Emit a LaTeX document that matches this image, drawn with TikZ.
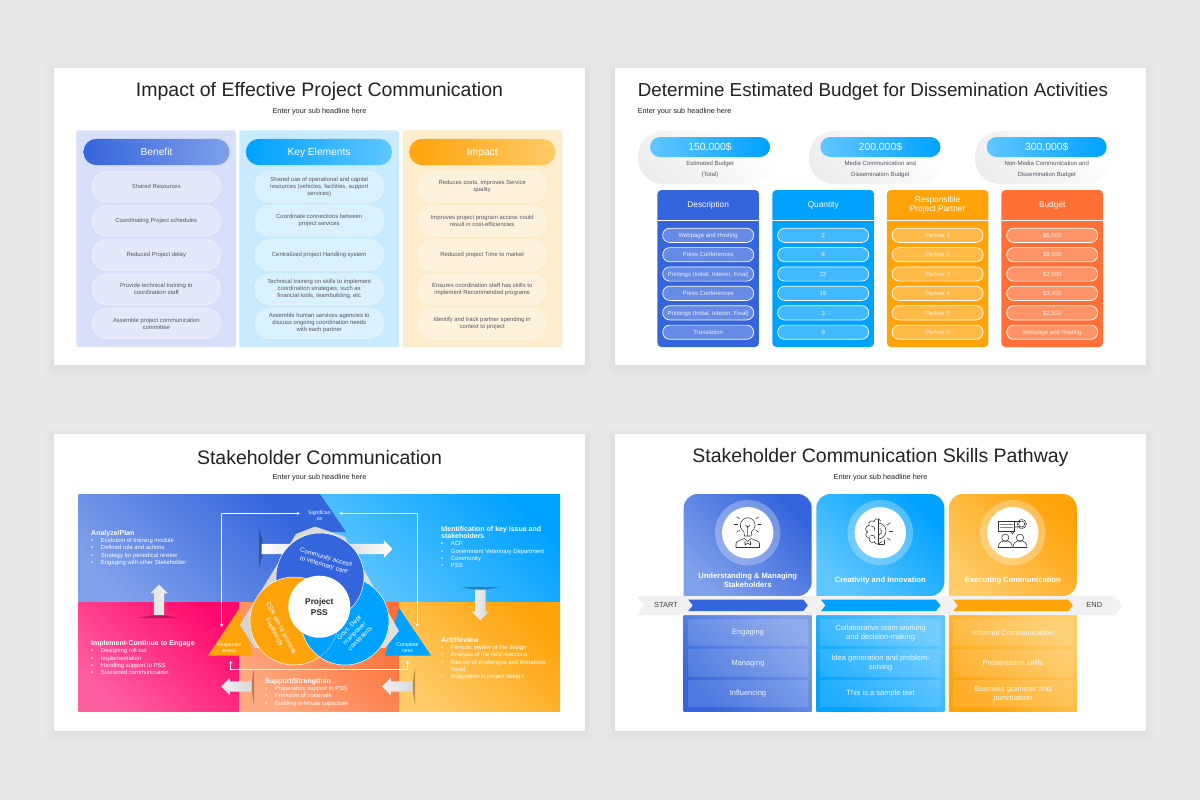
\documentclass[tikz,border=0pt]{standalone}
\usepackage{fontspec}
\setmainfont{Liberation Sans}
\usetikzlibrary{shapes.arrows}
\definecolor{pagegray}{HTML}{E9E9EB}
\definecolor{titleink}{HTML}{222222}
\definecolor{bodyink}{HTML}{555560}
\definecolor{royal}{HTML}{3565DC}
\definecolor{royallt}{HTML}{7FA0EA}
\definecolor{sky}{HTML}{00A2FF}
\definecolor{skylt}{HTML}{60C6FF}
\definecolor{amber}{HTML}{FFA30A}
\definecolor{amberlt}{HTML}{FFCB66}
\definecolor{flame}{HTML}{FF6F36}
\definecolor{flamelt}{HTML}{FFA980}
\definecolor{rose}{HTML}{FF0A6C}
\definecolor{roselt}{HTML}{FF5FA0}
\definecolor{bandgray}{HTML}{F1F1F1}
\newcommand{\bul}{\makebox[9.8pt][l]{\textbullet}}
\newcommand{\bulgap}{\hspace*{9.8pt}}
\newcommand{\blockhead}[1]{{\fontsize{7}{7.25}\selectfont\bfseries #1}}
\newcommand{\cardback}[2]{%
  \foreach \s in {1,...,9}
    \fill[black,opacity=.005,rounded corners=3pt] (#1-\s,#2-\s+3) rectangle (#1+531+\s,#2+297+\s+3);
  \fill[white] (#1,#2) rectangle (#1+531,#2+297);}
\tikzset{
  grad/.style 2 args={left color=#1,right color=#2,shading angle=135},
  titlenode/.style={text=titleink,font=\fontsize{19.5}{22}\selectfont,inner sep=0pt},
  subnode/.style={text=titleink,font=\fontsize{7.3}{9}\selectfont,inner sep=0pt},
  panelbox/.style={minimum width=159.5pt,minimum height=216.5pt,inner sep=0pt,rounded corners=2pt},
  headpill/.style={minimum width=146pt,minimum height=26.4pt,inner sep=0pt,rounded corners=13pt,text height=7.4pt,text depth=0pt,text=white,font=\fontsize{10.2}{12}\selectfont},
  itempill/.style={minimum width=128.6pt,minimum height=30.6pt,inner sep=0pt,rounded corners=15pt,draw=white,draw opacity=.55,fill=white,fill opacity=.32,text opacity=1,line width=.5pt,text=bodyink,align=center,font=\fontsize{5.9}{7}\selectfont},
  moneypill/.style={minimum width=120pt,minimum height=20pt,inner sep=0pt,rounded corners=10pt,text height=7.4pt,text depth=0pt,left color=skylt,right color=sky,text=white,font=\fontsize{10.4}{12}\selectfont},
  blobtext/.style={text=bodyink,align=center,font=\fontsize{6}{10.4}\selectfont,inner sep=0pt},
  colbox/.style={minimum width=101.5pt,minimum height=157pt,inner sep=0pt,rounded corners=4pt},
  colhead/.style={minimum width=101.5pt,minimum height=30pt,inner sep=0pt,text=white,align=center,font=\fontsize{8.3}{9.6}\selectfont},
  rowpill/.style={minimum width=91pt,minimum height=14.2pt,inner sep=0pt,rounded corners=7pt,text height=4.4pt,text depth=0pt,draw=white,line width=.7pt,fill=white,fill opacity=.25,text opacity=.88,text=white,font=\fontsize{6}{7}\selectfont},
  flowarrow/.style 2 args={single arrow,single arrow head extend=3.5pt,minimum width=17pt,text height=10pt,text depth=0pt,inner sep=0pt,left color=#1,right color=#2},
  blocktext/.style={anchor=north west,inner sep=0pt,text=white,align=left,font=\fontsize{5.9}{7.25}\selectfont},
  petal/.style={circle,minimum size=88pt,inner sep=0pt,draw=white,line width=.5pt},
  petaltext/.style={inner sep=0pt,text=white,align=center,font=\fontsize{6.4}{7.8}\selectfont},
  trilabel/.style={inner sep=0pt,text=white,align=center,font=\fontsize{5.2}{6.2}\selectfont},
  lens/.style={black,opacity=.28},
  stepcell/.style={minimum width=120.3pt,minimum height=27.3pt,inner sep=0pt,fill=white,fill opacity=.13,text opacity=.9,text=white,align=center,font=\fontsize{7.5}{9}\selectfont},
  steptitle/.style={inner sep=0pt,text=white,align=center,font=\fontsize{7.6}{9.8}\selectfont\bfseries},
  bandlabel/.style={inner sep=0pt,text=black!75,font=\fontsize{7.4}{8}\selectfont},
  halo/.style={circle,minimum size=65.4pt,inner sep=0pt,fill=white,fill opacity=.28},
  iconline/.style={draw=black!80,line width=.55pt,line cap=round,line join=round}
}
\begin{document}
\begin{tikzpicture}[x=1pt,y=-1pt]
\fill[pagegray] (0,0) rectangle (1200,800);
\useasboundingbox (0,0) rectangle (1200,800);
\cardback{54}{68}
\cardback{615}{68}
\cardback{54}{434}
\cardback{615}{434}
\node[titlenode] (impacttitle) at (319.5,91.4) {Impact of Effective Project Communication};
\node[subnode] (impactsub) at (319.5,111.8) {Enter your sub headline here};
\node[panelbox,fill=royal!20] (benefitpanel) at (156,238.7) {};
\node[panelbox,fill=sky!21] (keypanel) at (319,238.7) {};
\node[panelbox,fill=amber!21] (impactpanel) at (482.5,238.7) {};
\node[headpill,left color=royal,right color=royallt] (benefithead) at (156.5,152) {Benefit};
\node[headpill,left color=sky,right color=skylt] (keyhead) at (319,152) {Key Elements};
\node[headpill,left color=amber,right color=amberlt] (impacthead) at (482.3,152) {Impact};
\foreach \yy/\txt [count=\n] in {186.7/{Shared Resources},220.8/{Coordinating Project schedules},255/{Reduced Project delay},289.2/{Provide technical training to\\coordination staff},323.4/{Assemble project communication\\committee}}
  \node[itempill] (benefit\n) at (156.3,\yy) {\txt};
\foreach \yy/\txt [count=\n] in {186.7/{Shared use of operational and capital\\resources (vehicles, facilities, support\\services)},220.8/{Coordinate connections between\\project services},255/{Centralized project Handling system},289.2/{Technical training on skills to implement\\coordination strategies, such as\\financial tools, teambuilding, etc},323.4/{Assemble human services agencies to\\discuss ongoing coordination needs\\with each partner}}
  \node[itempill] (key\n) at (319.2,\yy) {\txt};
\foreach \yy/\txt [count=\n] in {186.7/{Reduces costs, improves Service\\quality},220.8/{Improves project program access could\\result in cost-efficiencies},255/{Reduced project Time to market},289.2/{Ensures coordination staff has skills to\\implement Recommended programs},323.4/{Identify and track partner spending in\\context to project}}
  \node[itempill] (impact\n) at (482.2,\yy) {\txt};
\node[titlenode,anchor=west,font=\fontsize{18.8}{22}\selectfont] (budgettitle) at (637.6,91.4) {Determine Estimated Budget for Dissemination Activities};
\node[subnode,anchor=west] (budgetsub) at (637.6,111.8) {Enter your sub headline here};
\foreach \cx in {706,877,1043}
  \shade[left color=black!7,right color=white,shading angle=135,rounded corners=25pt] (\cx-68,131) rectangle (\cx+68,184);
\node[moneypill] (total) at (710,147) {150,000\$};
\node[moneypill] (media) at (880.4,147) {200,000\$};
\node[moneypill] (nonmedia) at (1046.7,147) {300,000\$};
\node[blobtext] (totaltext) at (710,169.4) {Estimated Budget\\(Total)};
\node[blobtext] (mediatext) at (880.4,169.4) {Media Communication and\\Dissemination Budget};
\node[blobtext] (nonmediatext) at (1046.7,169.4) {Non-Media Communication and\\Dissemination Budget};
\foreach \nm/\cx/\colr/\hd in {desc/708.2/royal/{Description},qty/823.2/sky/{Quantity},partner/937.6/amber/{Responsible\\Project Partner},cost/1052.2/flame/{Budget}}{
  \node[colbox,fill=\colr] (\nm box) at (\cx,268.5) {};
  \node[colhead] (\nm head) at (\cx,205) {\hd};
  \draw[white,line width=.8pt] (\nm head.south west) -- (\nm head.south east);
}
\foreach \yy/\txt [count=\n] in {235.3/{Webpage and Hosting},254.7/{Press Conferences},274/{Printings (Initial, Interim, Final)},293.3/{Press Conferences},312.8/{Printings (Initial, Interim, Final)},332.2/{Translation}}
  \node[rowpill] (desc\n) at (708.2,\yy) {\txt};
\foreach \yy/\txt [count=\n] in {235.3/2,254.7/8,274/22,293.3/16,312.8/3,332.2/9}
  \node[rowpill] (qty\n) at (823.2,\yy) {\txt};
\foreach \yy/\txt [count=\n] in {235.3/1,254.7/2,274/3,293.3/4,312.8/5,332.2/6}
  \node[rowpill] (partner\n) at (937.6,\yy) {Partner \txt};
\foreach \yy/\txt [count=\n] in {235.3/{\$5,500},254.7/{\$9,500},274/{\$2,500},293.3/{\$3,400},312.8/{\$2,500},332.2/{Webpage and Hosting}}
  \node[rowpill] (cost\n) at (1052.2,\yy) {\txt};
\node[titlenode] (stakeholdertitle) at (319.5,457.4) {Stakeholder Communication};
\node[subnode] (stakeholdersub) at (319.5,477.8) {Enter your sub headline here};
\shade[grad={royallt}{royal}] (78.3,494) rectangle (320,602.3);
\shade[grad={skylt}{sky}] (320,494) rectangle (560,602.3);
\shade[grad={roselt}{rose}] (78.3,602.3) rectangle (239.3,711);
\shade[grad={flamelt}{flame}] (239.3,602.3) rectangle (399.3,711);
\shade[grad={amberlt}{amber}] (399.3,602.3) rectangle (560,711);
\fill[lens] (259,528) .. controls (265,548) .. (259,568) -- cycle;
\fill[lens] (138,618) .. controls (158,614) .. (178,618) -- cycle;
\fill[lens] (461,587) .. controls (480,591) .. (500,587) -- cycle;
\fill[lens] (254,668) .. controls (251,686) .. (254,705) -- cycle;
\fill[lens] (415,667) .. controls (412,686) .. (415,705) -- cycle;
\node[flowarrow={white}{white},middle color=black!18,minimum height=131pt] (planarrow) at (324.5,549) {};
\node[flowarrow={black!12}{black!5},minimum height=30.4pt,rotate=90] (uparrow) at (159,602.5) {};
\node[flowarrow={black!5}{black!15},minimum height=30.7pt,rotate=-90] (downarrow) at (480.4,602.3) {};
\node[flowarrow={black!5}{black!15},minimum height=30.6pt,rotate=180] (midarrow) at (400,686.5) {};
\node[flowarrow={black!5}{black!15},minimum height=30.6pt,rotate=180] (leftarrow) at (239,686.5) {};
\fill[royal] (320,494) -- (346,532) -- (294,532) -- cycle;
\fill[amber] (239,609) -- (253,655.5) -- (208,655.5) -- cycle;
\fill[sky] (399,608) -- (431,655.5) -- (385,655.5) -- cycle;
\shade[left color=black!17,right color=black!12] (296,534) -- (315,526.5) -- (345,537) -- (399,631) -- (385,648) -- (255,648) -- (240,625) -- cycle;
\node[petal,fill=sky] (govtcircle) at (345,621) {};
\node[petal,fill=royal] (commcircle) at (320,577) {};
\node[petal,fill=amber] (csrcircle) at (294,621) {};
\begin{scope}
  \clip (294,621) circle[radius=44pt];
  \node[petal,fill=sky] (govtcover) at (345,621) {};
\end{scope}
\node[circle,fill=white,minimum size=62pt,inner sep=0pt,align=center,text=titleink,font=\fontsize{8.3}{11}\selectfont\bfseries] (pss) at (319.3,606.7) {Project\\PSS};
\node[petaltext,rotate=-16] (commtext) at (325,561.5) {Community access\\to veterinary care};
\node[petaltext,rotate=-62] (csrtext) at (278,630) {CSR aim to promote\\livelihoods};
\node[petaltext,rotate=45] (govttext) at (354.5,633) {Govt. Dept\\manpower\\constraints};
\node[trilabel] (significance) at (319.5,516) {Significan\\ce};
\node[trilabel] (responsive) at (229,648) {Responsiv\\eness};
\node[trilabel] (completeness) at (407.5,648) {Complete\\ness};
\coordinate (sigleft) at (300,513.3);
\coordinate (sigright) at (339.3,513.3);
\coordinate (resptop) at (221.7,627);
\coordinate (comptop) at (417.3,627);
\coordinate (respbase) at (230.7,660.5);
\coordinate (compbase) at (407.7,660.5);
\coordinate (leftcorner) at (221.7,513.3);
\coordinate (rightcorner) at (417.3,513.3);
\coordinate (basecorner) at (407.7,669);
\draw[white,line width=.5pt,<->,>=stealth] (sigleft) -- (leftcorner) -- (resptop);
\draw[white,line width=.5pt,<->,>=stealth] (sigright) -- (rightcorner) -- (comptop);
\draw[white,line width=.5pt,<->,>=stealth] (respbase) |- (basecorner) -- (compbase);
\node[blocktext] (analyze) at (91,530.2) {\blockhead{Analyze/Plan}\\\bul Evolution of training module\\\bul Defined role and actions\\\bul Strategy for periodical review\\\bul Engaging with other Stakeholder};
\node[blocktext] (identify) at (441,526) {\blockhead{Identification of key issue and}\\\blockhead{stakeholders}\\\bul ACF\\\bul Government Veterinary Department\\\bul Community\\\bul PSS};
\node[blocktext] (implement) at (91,640.4) {\blockhead{Implement-Continue to Engage}\\\bul Designing roll out\\\bul Implementation\\\bul Handling support to PSS\\\bul Sustained communication};
\node[blocktext] (review) at (441,637.2) {\blockhead{Act/Review}\\\bul Periodic review of the design\\\bul Analysis of the field reactions\\\bul Review of challenges and limitations\\\bulgap faced\\\bul Adaptation in project design};
\node[blocktext] (support) at (265,678) {\blockhead{Support/Strengthen}\\\bul Preparatory support to PSS\\\bul Provision of materials\\\bul Building in-house capacities};
\node[titlenode] (pathwaytitle) at (880.5,457.4) {Stakeholder Communication Skills Pathway};
\node[subnode] (pathwaysub) at (880.5,477.8) {Enter your sub headline here};
\foreach \nm/\lft/\colr in {one/683.7/royal,two/816.3/sky,three/948.8/amber}{
  \shade[grad={\colr lt}{\colr}] (\lft,596) [rounded corners=14pt] -- (\lft,494) -- (\lft+128,494) -- (\lft+128,596) [sharp corners] -- cycle;
  \shade[left color=\colr,right color=\colr lt,shading angle=135] (\lft,615) rectangle (\lft+128,711.7);
  \node[halo] (\nm halo) at (\lft+64,532.7) {};
  \node[circle,fill=white,minimum size=51.4pt,inner sep=0pt] (\nm icon) at (\lft+64,532.7) {};
}
\node[steptitle] (onetitle) at (747.7,580.3) {Understanding \& Managing\\Stakeholders};
\node[steptitle] (twotitle) at (880.3,580.6) {Creativity and Innovation};
\node[steptitle] (threetitle) at (1012.8,580.6) {Executing Communication};
\foreach \nm/\cx/\txtA/\txtB/\txtC in {one/748/{Engaging}/{Managing}/{Influencing},two/880.6/{Collaborative team working\\and decision-making}/{Idea generation and problem-\\solving}/{This is a sample text},three/1012.8/{Informal Communication}/{Presentation skills}/{Business grammar and\\punctuation}}{
  \node[stepcell] (\nm cellA) at (\cx,632.6) {\txtA};
  \node[stepcell] (\nm cellB) at (\cx,663.1) {\txtB};
  \node[stepcell] (\nm cellC) at (\cx,693.6) {\txtC};
}
\fill[bandgray] (637.3,596) -- (1115,596) -- (1122.3,605.5) -- (1115,615) -- (637.3,615) -- (643.5,605.5) -- cycle;
\foreach \lft/\colr in {688.3/royal,821/sky,953.3/amber}
  \fill[\colr] (\lft,599.7) -- (\lft+115,599.7) -- (\lft+119.5,605.4) -- (\lft+115,611) -- (\lft,611) -- (\lft+4.5,605.4) -- cycle;
\node[bandlabel] (startlabel) at (666,605.3) {START};
\node[bandlabel] (endlabel) at (1094.3,605.3) {END};
\coordinate (bulbc) at (747.7,524.5);
\draw[iconline] (744.5,536) -- (743.8,531.5) arc[start angle=238,end angle=-58,radius=7.4pt] -- (751,536) -- cycle;
\draw[iconline] (747.7,536) -- (747.7,526) (745.6,525) -- (747.7,527.5) -- (749.8,525);
\foreach \a in {0,35,145,180,215,-35}
  \draw[iconline] (bulbc) ++(\a:10pt) -- ++(\a:3.5pt);
\draw[iconline] (736,547.5) -- (736,543.5) .. controls (736,541) and (740,540.5) .. (744.5,538.5) -- (747.7,541.5) -- (751,538.5) .. controls (755,540.5) and (759.5,541) .. (759.5,543.5) -- (759.5,547.5) -- cycle;
\draw[iconline] (745,541.5) -- (745,545) -- (747.7,543) -- (750.5,545) -- (750.5,541.5);
\coordinate (brainc) at (878,531.5);
\foreach \a in {95,130,165,200,235,268}
  \draw[iconline] (brainc) ++(\a:9pt) ++(\a-75:3.8pt) arc[start angle=\a-75,end angle=\a+75,radius=3.8pt];
\draw[iconline] (878,519) -- (878,544) -- (884,544) (884,544) -- (884,540);
\draw[iconline] (871,526) .. controls (875,527) .. (874,531) (870,536) .. controls (874,535) .. (875,539);
\draw[iconline] (878,523) arc[start angle=90,end angle=-90,radius=8pt];
\draw[iconline,line width=1pt,dash pattern=on .9pt off .9pt,line cap=butt] (878,528) arc[start angle=90,end angle=-90,radius=3.6pt];
\foreach \a in {-35,0,35}
  \draw[iconline] (brainc) ++(\a:11.5pt) -- ++(\a:3.5pt);
\draw[iconline] (998.3,521.5) rectangle (1014.5,531) (1014.5,521.5) -- (1020,521.5);
\draw[iconline,line width=.9pt,black!50] (1000.5,524.5) -- (1012.5,524.5) (1000.5,527.8) -- (1012.5,527.8);
\draw[iconline] (1021.7,524) circle[radius=3pt];
\draw[iconline,line width=1pt,dash pattern=on .9pt off .9pt,line cap=butt] (1021.7,524) circle[radius=4.6pt];
\draw[iconline] (1014.5,527) -- (1019,527) (1010,531) -- (1012.5,534) -- (1014.5,531);
\foreach \cx in {1005.3,1020}{
  \draw[iconline] (\cx,537.7) circle[radius=3.6pt];
  \draw[iconline] (\cx-7,547.5) .. controls (\cx-7,543) and (\cx-4,541.5) .. (\cx-2.5,541) -- (\cx+2.5,541) .. controls (\cx+4,541.5) and (\cx+7,543) .. (\cx+7,547.5) -- cycle;
}
\end{tikzpicture}
\end{document}
